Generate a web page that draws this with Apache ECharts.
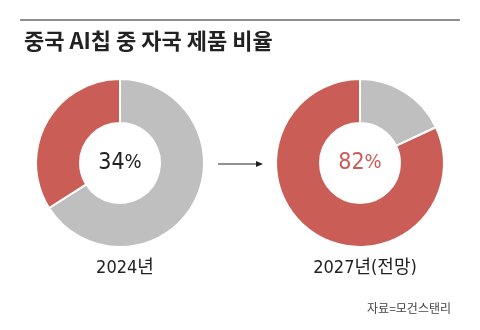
<!DOCTYPE html>
<html>
<head>
<meta charset="utf-8">
<script src="https://cdn.jsdelivr.net/npm/echarts@6/dist/echarts.min.js"></script>
<style>
  html, body { margin: 0; padding: 0; background: #fff; }
  #chart { width: 480px; height: 330px; }
</style>
</head>
<body>
<div id="chart"></div>
<script>
// Share of domestic products among AI chips used in China
const titleText = '중국 AI칩 중 자국 제품 비율';
const yearLabels = ['2024년', '2027년(전망)'];
const sliceNames = ['기타', '자국 제품'];
const shares2024 = [66, 34];
const shares2027 = [18, 82];
const sourceText = '자료=모건스탠리';

const RED = '#cb5d57';
const GRAY = '#bfbfbf';
const NARROW = '"Liberation Sans Narrow", "DejaVu Sans Condensed", "Roboto Condensed", "Noto Sans CJK KR", sans-serif';

function donut(values, cx, labelColor) {
  return {
    type: 'pie',
    center: [cx, 163],
    radius: [40, 84],
    startAngle: 90,
    clockwise: true,
    silent: true,
    animation: false,
    itemStyle: { borderColor: '#fff', borderWidth: 2 },
    labelLine: { show: false },
    data: values.map((v, i) => ({
      name: sliceNames[i],
      value: v,
      itemStyle: { color: i === 1 ? RED : GRAY },
      label: i === 1 ? {
        show: true,
        position: 'center',
        formatter: '{v|{c}}{p|%}',
        rich: {
          v: { fontFamily: NARROW, fontSize: 23, color: labelColor },
          p: { fontFamily: NARROW, fontSize: 20, color: labelColor }
        }
      } : { show: false }
    }))
  };
}

const chart = echarts.init(document.getElementById('chart'), null, { renderer: 'canvas' });
chart.setOption({
  backgroundColor: '#fff',
  animation: false,
  title: [
    {
      text: titleText, left: 19, top: 25,
      textStyle: { fontFamily: '"Noto Sans CJK KR", sans-serif', fontSize: 22, fontWeight: 'bold', color: '#222' }
    },
    {
      text: yearLabels[0], left: 120, top: 254, textAlign: 'center',
      textStyle: { fontFamily: NARROW, fontSize: 18, fontWeight: 'normal', color: '#222' }
    },
    {
      text: yearLabels[1], left: 360, top: 254, textAlign: 'center',
      textStyle: { fontFamily: NARROW, fontSize: 18, fontWeight: 'normal', color: '#222' }
    },
    {
      text: sourceText, right: 24, top: 297,
      textStyle: { fontFamily: '"Noto Sans CJK KR", sans-serif', fontSize: 12, fontWeight: 'normal', color: '#444' }
    }
  ],
  graphic: [
    { type: 'line', shape: { x1: 20, y1: 20, x2: 460, y2: 20 }, style: { stroke: '#8f8f8f', lineWidth: 2 } },
    { type: 'line', shape: { x1: 218, y1: 164, x2: 258, y2: 164 }, style: { stroke: '#222', lineWidth: 1 } },
    { type: 'polygon', shape: { points: [[263, 164], [256, 161], [256, 167]] }, style: { fill: '#222' } }
  ],
  series: [
    donut(shares2024, 120, '#222'),
    donut(shares2027, 360, RED)
  ]
});
</script>
</body>
</html>
